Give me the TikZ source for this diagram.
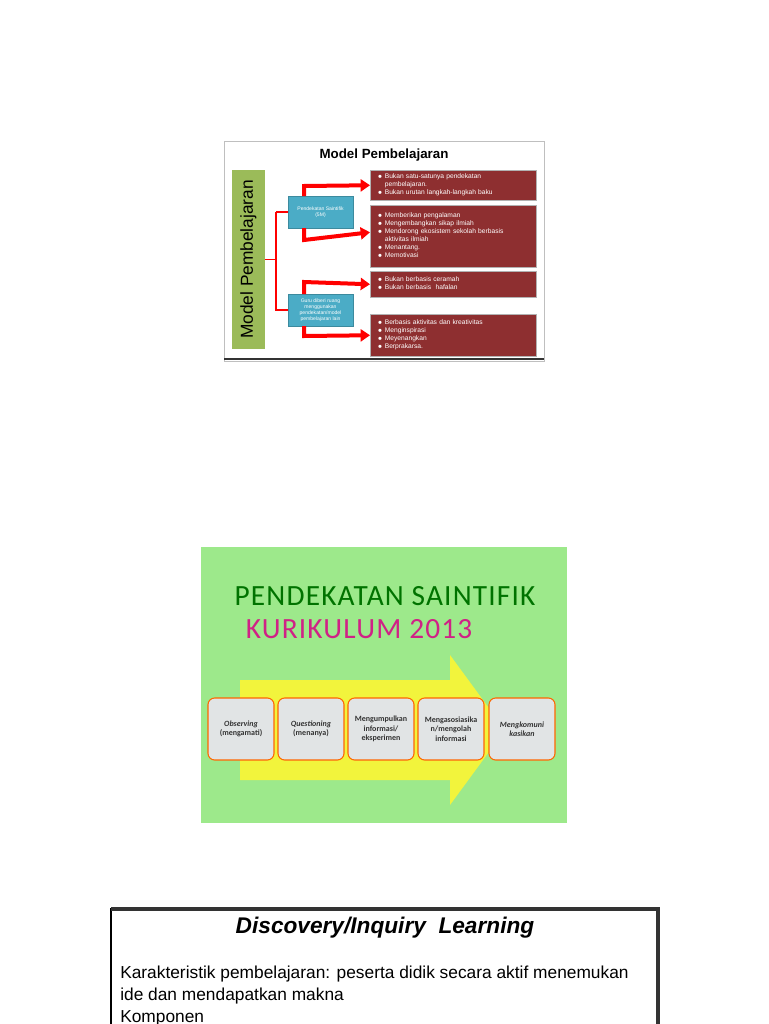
\documentclass[tikz,border=0pt]{standalone}
\usepackage{fontspec}
\setmainfont{Liberation Sans}
\newfontfamily\calib[LetterSpace=4]{Carlito}
\newfontfamily\calibn{Carlito}
\usetikzlibrary{arrows.meta}
\definecolor{mred}{HTML}{8E2F30}
\definecolor{mblue}{HTML}{4BACC6}
\definecolor{mgreen}{HTML}{9BBB59}
\definecolor{bg}{HTML}{9DE98B}
\definecolor{yel}{HTML}{F2F43C}
\begin{document}
\begin{tikzpicture}[x=0.75pt,y=-0.75pt,
 redbox/.style={draw=gray!60,fill=mred,minimum width=166*0.75pt,text width=160*0.75pt,anchor=north west,text=white,font=\fontsize{5}{6}\selectfont,align=left,inner xsep=3*0.75pt,inner ysep=0pt},
 bluebox/.style={fill=mblue,draw=mblue!80!black,minimum width=65*0.75pt,minimum height=32*0.75pt,text=white,font=\fontsize{3.8}{4.5}\selectfont,align=center},
 stepb/.style={draw=orange!80!red,line width=0.8pt,rounded corners=5pt,fill=cyan!8!gray!25,minimum width=66*0.75pt,minimum height=62*0.75pt,align=center,font=\calibn\fontsize{6}{7}\selectfont\bfseries,text=black!80},
 rar/.style={red,line width=3pt,-{Triangle[length=7pt,width=9pt]}},
 thin/.style={red,line width=0.8pt}]
\useasboundingbox (0,0) rectangle (768,1024);
\fill[white] (0,0) rectangle (768,1024);
% image 1
\draw[gray!50,fill=white] (224,141) rectangle (544,361);
\draw[black!80,line width=2pt] (224,359) -- (544,359);
\node (t1) at (384,155) {\fontsize{10}{12}\selectfont\bfseries Model Pembelajaran};
\node[fill=mgreen,minimum width=33*0.75pt,minimum height=179*0.75pt,inner sep=0pt] (mp) at (248.5,259.5) {};
\node[rotate=90,font=\fontsize{13}{14}\selectfont] at (mp) {Model Pembelajaran};
\node[bluebox] (b1) at (320.5,212) {Pendekatan Saintifik\\(5M)};
\node[bluebox] (b2) at (320.5,310) {Guru diberi ruang\\menggunakan\\pendekatan/model\\pembelajaran lain};
\node[redbox,minimum height=30*0.75pt] (ra) at (370,170) {\begin{tabular}{@{\ \ }l@{\ }l}$\bullet$&Bukan satu-satunya pendekatan\\&pembelajaran.\\$\bullet$&Bukan urutan langkah-langkah baku\end{tabular}};
\node[redbox,minimum height=62*0.75pt] (rb) at (370,205) {\begin{tabular}{@{\ \ }l@{\ }l}$\bullet$&Memberikan pengalaman\\$\bullet$&Mengembangkan sikap ilmiah\\$\bullet$&Mendorong ekosistem sekolah berbasis\\&aktivitas ilmiah\\$\bullet$&Menantang.\\$\bullet$&Memotivasi\end{tabular}};
\node[redbox,minimum height=26*0.75pt] (rc) at (370,271) {\begin{tabular}{@{\ \ }l@{\ }l}$\bullet$&Bukan berbasis ceramah\\$\bullet$&Bukan berbasis\ \ hafalan\end{tabular}};
\node[redbox,minimum height=42*0.75pt] (rd) at (370,314) {\begin{tabular}{@{\ \ }l@{\ }l}$\bullet$&Berbasis aktivitas dan kreativitas\\$\bullet$&Menginspirasi\\$\bullet$&Meyenangkan\\$\bullet$&Berprakarsa.\end{tabular}};
\draw[thin] (mp.east) -- (276,259.5);
\draw[thin] (276,212) -- (b1.west);
\draw[thin] (276,212) -- (276,310) -- (b2.west);
\draw[rar] (304,196) -- (304,186) -- (ra.west);
\draw[rar] (304,228) -- (304,240) -- ([yshift=3pt]rb.west);
\draw[rar] (304,294) -- (304,282) -- (rc.west);
\draw[rar] (304,326) -- (304,336) -- (rd.west);
% image 2
\fill[bg] (201,547) rectangle (567,823);
\fill[yel] (240,680) -- (450,680) -- (450,655) -- (505,730) -- (450,805) -- (450,780) -- (240,780) -- cycle;
\node[text=green!45!black,font=\calib\fontsize{22}{24}\selectfont] (t2) at (385,596) {PENDEKATAN SAINTIFIK};
\node[text=magenta!85!black,font=\calib\fontsize{22}{24}\selectfont] (t3) at (359,629) {KURIKULUM 2013};
\node[stepb] (s1) at (241,729) {\textit{Observing}\\(mengamati)};
\node[stepb] (s2) at (311,729) {\textit{Questioning}\\(menanya)};
\node[stepb] (s3) at (381,729) {Mengumpulkan\\informasi/\\eksperimen};
\node[stepb] (s4) at (451,729) {Mengasosiasika\\n/mengolah\\informasi};
\node[stepb] (s5) at (522,729) {\textit{Mengkomuni}\\\textit{kasikan}};
% image 3
\draw[black,line width=1pt,fill=white] (111,909) rectangle (657,1030);
\draw[black!80,line width=3pt] (111,908.5) -- (657.5,908.5) -- (657.5,1030);
\node (t4) at (385,928) {\fontsize{17}{20}\selectfont\bfseries\itshape Discovery/Inquiry\ \ Learning};
\node[anchor=west,font=\fontsize{13}{17}\selectfont,align=left,inner sep=0pt] (p1) at (120,985) {Karakteristik pembelajaran: peserta didik secara aktif menemukan\\ide dan mendapatkan makna};
\node[anchor=north west,font=\fontsize{13}{15}\selectfont,inner sep=0pt] (p2) at (120,1010) {Komponen};
\end{tikzpicture}
\end{document}
